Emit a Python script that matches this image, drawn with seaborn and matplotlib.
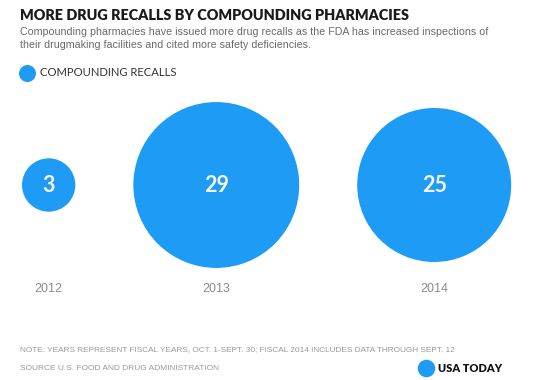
import numpy as np
import pandas as pd
import seaborn as sns
import matplotlib.pyplot as plt

years = ['2012', '2013', '2014']
recalls = [3, 29, 25]

title = 'MORE DRUG RECALLS BY COMPOUNDING PHARMACIES'
subtitle = ('Compounding pharmacies have issued more drug recalls as the FDA has increased inspections of\n'
            'their drugmaking facilities and cited more safety deficiencies.')
legend_label = 'COMPOUNDING RECALLS'
note = 'NOTE: YEARS REPRESENT FISCAL YEARS, OCT. 1-SEPT. 30; FISCAL 2014 INCLUDES DATA THROUGH SEPT. 12'
source = 'SOURCE U.S. FOOD AND DRUG ADMINISTRATION'

BLUE = '#1e9bf5'
W, H = 540, 380


def bubble_layout(values, k=15.4, left=22, gap=58):
    # circle area ~ value, circles packed left to right with a fixed gap
    r = k * np.sqrt(np.array(values, dtype=float))
    x = left + r + np.concatenate([[0], np.cumsum(2 * r[:-1] + gap)])
    return x, r


def main():
    sns.set_theme(style='white')
    plt.rcParams['font.family'] = ['Liberation Sans', 'DejaVu Sans']

    fig = plt.figure(figsize=(W / 100, H / 100), dpi=100)
    ax = fig.add_axes([0, 0, 1, 1])

    x, r = bubble_layout(recalls)
    df = pd.DataFrame({'year': years, 'recalls': recalls, 'x': x, 'y': 185})

    # marker size in points^2 so that radius in px = k*sqrt(value)
    vmax = max(recalls)
    rmax = 15.4 * np.sqrt(vmax)
    smax = (2 * rmax * 0.72) ** 2
    sns.scatterplot(data=df, x='x', y='y', size='recalls', sizes=(0, smax),
                    size_norm=(0, vmax), color=BLUE, linewidth=0,
                    legend=False, ax=ax)

    for _, row in df.iterrows():
        ax.text(row.x, row.y, str(row.recalls), color='#f4f4f4', fontsize=15.5,
                fontweight='bold', family='Lato', ha='center', va='center')
        ax.text(row.x, 289, row.year, color='#8c8c8c', fontsize=9,
                ha='center', va='center')

    ax.set_xlim(0, W)
    ax.set_ylim(H, 0)
    ax.axis('off')

    ax.text(20, 15, title, fontsize=10.4, fontweight='heavy', family='Lato',
            color='#1a1a1a', va='center')
    ax.text(20, 38.5, subtitle, fontsize=7.7, color='#6a6a6a', va='center',
            linespacing=1.3)

    ax.scatter([26.5], [73], s=(17 * 0.72) ** 2, color=BLUE, linewidth=0)
    ax.text(40, 73, legend_label, fontsize=8.1, family='Lato',
            color='#333333', va='center')

    ax.text(20, 350, note, fontsize=5.95, color='#9a9a9a', va='center')
    ax.text(20, 368, source, fontsize=6.0, color='#9a9a9a', va='center')

    ax.scatter([426], [368], s=(17.5 * 0.72) ** 2, color=BLUE, linewidth=0)
    ax.text(438, 368, 'USA TODAY', fontsize=7.9, fontweight='heavy',
            family='Lato', color='#111111', va='center')

    fig.savefig('out.png', dpi=100)


if __name__ == '__main__':
    main()
